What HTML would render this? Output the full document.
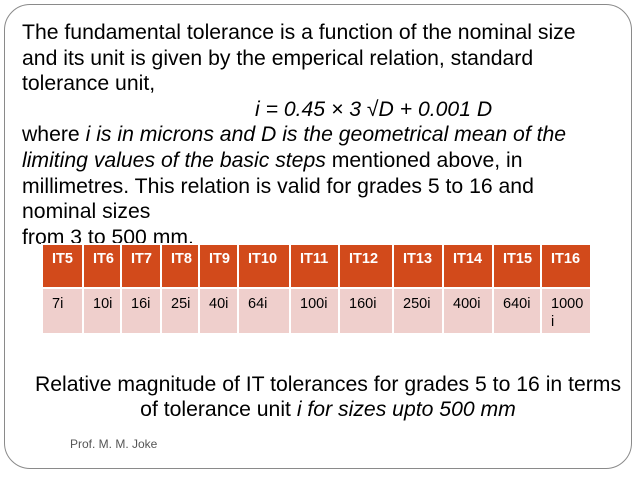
<!DOCTYPE html>
<html><head><meta charset="utf-8"><style>
body{margin:0;width:638px;height:478px;background:#fff;position:relative;overflow:hidden;font-family:"Liberation Sans",sans-serif}
#frame{position:absolute;left:4px;top:4px;width:628px;height:465px;border:1px solid #8a8a8a;border-radius:26px;box-sizing:border-box}
#text{position:absolute;left:22px;top:20px;width:610px;font-size:21.2px;line-height:25.6px;color:#000;white-space:nowrap}
#text p{margin:0}
table{position:absolute;left:41px;top:243px;border-collapse:collapse;font-size:14.5px}
td{border:2px solid #fff;padding:0 0 0 9px;vertical-align:top}
tr.h td{background:#d24a1b;color:#fff;font-weight:bold;height:44px;padding-top:6px;box-sizing:border-box}
tr.b td{background:#efcfcc;color:#000;height:46px;padding-top:6px;box-sizing:border-box;line-height:18px}
#cap{position:absolute;left:0;width:656px;top:372px;text-align:center;font-size:21.2px;line-height:25px}
#prof{position:absolute;left:70px;top:437px;font-size:12px;color:#555}
</style></head><body>
<div id="frame"></div>
<div id="text">
<p>The fundamental tolerance is a function of the nominal size<br>and its unit is given by the emperical relation, standard<br>tolerance unit,</p>
<p style="padding-left:233px"><i>i = 0.45 × 3 √D + 0.001 D</i></p>
<p>where <i>i is in microns and D is the geometrical mean of the</i><br><i>limiting values of the basic steps</i> mentioned above, in<br>millimetres. This relation is valid for grades 5 to 16 and<br>nominal sizes<br>from 3 to 500 mm.</p>
</div>
<table>
<tr class="h"><td style="width:41px">IT5</td><td style="width:38px">IT6</td><td style="width:40px">IT7</td><td style="width:38px">IT8</td><td style="width:39px">IT9</td><td style="width:52px">IT10</td><td style="width:49px">IT11</td><td style="width:54px">IT12</td><td style="width:50px">IT13</td><td style="width:50px">IT14</td><td style="width:48px">IT15</td><td style="width:50px">IT16</td></tr>
<tr class="b"><td>7i</td><td>10i</td><td>16i</td><td>25i</td><td>40i</td><td>64i</td><td>100i</td><td>160i</td><td>250i</td><td>400i</td><td>640i</td><td>1000<br>i</td></tr>
</table>
<div id="cap">Relative magnitude of IT tolerances for grades 5 to 16 in terms<br>of tolerance unit <i>i for sizes upto 500 mm</i></div>
<div id="prof">Prof. M. M. Joke</div>
</body></html>
